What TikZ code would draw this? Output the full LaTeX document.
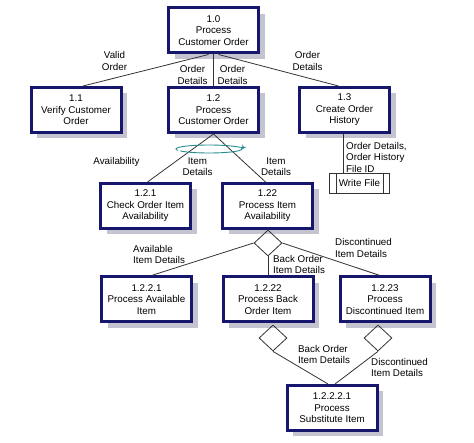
\documentclass[tikz,border=0pt]{standalone}
\usepackage{fontspec}
\setmainfont{Liberation Sans}
\usetikzlibrary{calc,shapes.geometric,shadows,arrows.meta}
\definecolor{boxblue}{RGB}{22,22,108}
\definecolor{shadowgray}{RGB}{196,196,208}
\definecolor{loopteal}{RGB}{40,140,140}

\begin{document}
\begin{tikzpicture}[x=1pt,y=-1pt,
  font=\fontsize{9.8}{11.5}\selectfont,
  proc/.style={draw=boxblue, line width=3pt, fill=white, minimum width=90pt,
    minimum height=45pt, inner sep=0pt, align=center,
    drop shadow={shadow xshift=6pt, shadow yshift=-6pt, fill=shadowgray, opacity=1}},
  flow/.style={line width=0.8pt, draw=black!80},
  gate/.style={diamond, draw=black!80, line width=0.8pt, minimum width=28pt,
    minimum height=26pt, inner sep=0pt},
  lbl/.style={align=center, inner sep=0pt},
  lbll/.style={align=left, anchor=west, inner sep=0pt}]
  \useasboundingbox (0,0) rectangle (474,443);

  % processes
  \node[proc] (p10) at (213.5,30.5) {1.0\\Process\\Customer Order};
  \node[proc] (p11) at (76,110) {1.1\\Verify Customer\\Order};
  \node[proc] (p12) at (213.5,110) {1.2\\Process\\Customer Order};
  \node[proc] (p13) at (344.5,110) {1.3\\Create Order\\History};
  \node[proc] (p121) at (145.5,206) {1.2.1\\Check Order Item\\Availability};
  \node[proc] (p122) at (267.5,206) {1.22\\Process Item\\Availability};
  \node[proc] (p1221) at (146.5,299.5) {1.2.2.1\\Process Available\\Item};
  \node[proc] (p1222) at (268,299.5) {1.2.22\\Process Back\\Order Item};
  \node[proc] (p1223) at (385,299.5) {1.2.23\\Process\\Discontinued Item};
  \node[proc] (p12221) at (332,408) {1.2.2.2.1\\Process\\Substitute Item};

  % file
  \node[draw=black!80, line width=0.8pt, minimum width=60pt, minimum height=20pt,
    inner sep=0pt] (wf) at (359.5,183.5) {Write File};
  \draw[flow] ($(wf.north west)+(7,0)$) -- ($(wf.south west)+(7,0)$);
  \draw[flow] ($(wf.north east)+(-7,0)$) -- ($(wf.south east)+(-7,0)$);

  % selectors
  \node[gate] (d1) at (268,243) {};
  \node[gate] (d2) at (273,338) {};
  \node[gate] (d3) at (378,338) {};

  % flows
  \draw[flow] ($(p10.south)+(-5,0)$) -- ($(p11.north)+(7,0)$);
  \draw[flow] (p10.south) -- (p12.north);
  \draw[flow] ($(p10.south)+(5,0)$) -- ($(p13.north)+(-6,0)$);
  \draw[flow] (p12.south) -- ($(p121.north)+(2,0)$);
  \draw[flow] (p12.south) -- ($(p122.north)+(-2,0)$);
  \coordinate (c13) at ($(p13.south)+(-1.5,0)$);
  \draw[flow] (c13) -- (c13 |- wf.north);
  \draw[flow] (d1.west) -- ($(p1221.north)+(5,0)$);
  \draw[flow] (d1.south) -- (p1222.north);
  \draw[flow] (d1.east) -- ($(p1223.north)+(-5,0)$);
  \draw[flow] (d2.south) -- ($(p12221.north)+(-4,0)$);
  \draw[flow] (d3.south) -- ($(p12221.north)+(3,0)$);

  % iteration loop
  \draw[loopteal, line width=0.9pt, -{Stealth[length=4.5pt,width=4.5pt]}] (209,149) ++(200:33pt and 4pt)
    arc[start angle=200, end angle=-5, x radius=33pt, y radius=4pt];
  \draw[loopteal, line width=0.9pt] (209,149) ++(210:33pt and 4pt)
    arc[start angle=210, end angle=370, x radius=33pt, y radius=4pt];

  % labels
  \node[lbl] (tvalid) at (114.5,61) {Valid\\Order};
  \node[lbl] (tod1) at (192.5,75) {Order\\Details};
  \node[lbl] (tod2) at (232.5,75) {Order\\Details};
  \node[lbl] (tod3) at (307.5,61) {Order\\Details};
  \node[lbl] (tavail) at (116.5,162) {Availability};
  \node[lbl] (tid1) at (197.5,166.5) {Item\\Details};
  \node[lbl] (tid2) at (276,166.5) {Item\\Details};
  \node[lbll] (thist) at (346,157.5) {Order Details,\\Order History\\File ID};
  \node[lbll] (tavid) at (133,254.5) {Available\\Item Details};
  \node[lbll] (tbo1) at (273,264.5) {Back Order\\Item Details};
  \node[lbll] (tdc1) at (335,248) {Discontinued\\Item Details};
  \node[lbll] (tbo2) at (298,354.5) {Back Order\\Item Details};
  \node[lbll] (tdc2) at (371,367.5) {Discontinued\\Item Details};
\end{tikzpicture}
\end{document}
